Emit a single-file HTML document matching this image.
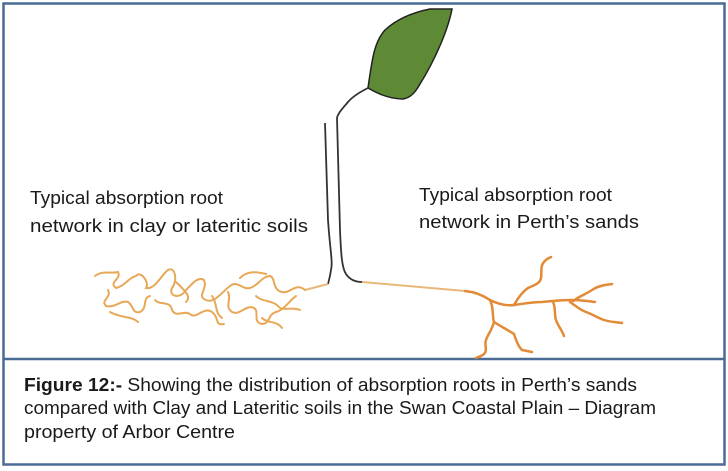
<!DOCTYPE html>
<html><head><meta charset="utf-8"><style>
html,body{margin:0;padding:0;background:#fff;width:728px;height:471px;overflow:hidden}
svg{display:block}
text{font-family:"Liberation Sans",sans-serif;fill:#1a1a1a}
</style></head><body>
<svg width="728" height="471" viewBox="0 0 728 471">
<rect x="3.5" y="3.5" width="721" height="461" fill="#fff" stroke="#4a6b94" stroke-width="2.5"/>
<line x1="3" y1="359" x2="725" y2="359" stroke="#4a6b94" stroke-width="2.5"/>
<!-- leaf -->
<path d="M368,88 C372,60 374,42 385,30 C398,18 415,12 430,9 L452,9 C448,30 435,60 420,84 C415,93 410,98 403,99 C390,99 378,94 368,88 Z" fill="#5e8a35" stroke="#222" stroke-width="1.5"/>
<!-- stem -->
<path d="M368,88 C360,92 353,96 348,102 C343,108 338,113 337,118 L340,230 C341,255 342,268 346,274 C350,280 356,282 362,282" fill="none" stroke="#333" stroke-width="1.8"/>
<path d="M325,123 L328,220 C330,250 333,262 331,270 C330,277 329,280 328,284" fill="none" stroke="#333" stroke-width="1.8"/>
<!-- tan connectors -->
<path d="M362,282 L465,291" stroke="#e8b878" stroke-width="2" fill="none"/>
<path d="M328,284 L305,290" stroke="#e8b878" stroke-width="2" fill="none"/>
<!-- clay roots tangle -->
<g fill="none" stroke="#e7a858" stroke-width="2" stroke-linecap="round">
<path d="M95,276 C102,270 112,274 118,272 C122,279 108,282 116,288 C125,286 128,278 136,276 C140,270 150,282 146,288 C155,290 162,274 168,270 C175,266 178,280 172,288 C168,296 180,300 186,290 C192,284 198,276 204,280 C208,290 196,296 206,300 C214,304 222,292 230,286 C238,280 242,290 250,288 C258,286 262,276 270,276 C276,278 272,290 282,292 C290,294 296,282 305,290"/>
<path d="M108,290 C112,298 100,300 106,306 C116,308 120,300 128,302 C134,306 132,314 140,312 C148,308 142,298 150,296"/>
<path d="M110,312 C120,318 132,316 138,322"/>
<path d="M155,300 C160,306 170,300 172,310 C176,318 184,310 190,314 C196,320 204,306 212,312 C220,318 214,326 224,324"/>
<path d="M176,282 C184,290 192,296 186,302"/>
<path d="M228,292 C232,300 224,306 232,312 C240,316 246,304 254,308 C260,312 252,322 262,324 C270,324 268,314 276,312 C284,310 290,300 296,296"/>
<path d="M240,278 C248,270 258,272 266,274"/>
<path d="M256,296 C262,302 272,300 278,306 C282,312 292,306 300,310"/>
<path d="M262,318 C268,324 276,320 282,328"/>
<path d="M212,296 C218,304 214,312 222,318"/>
</g>
<!-- sands roots -->
<g fill="none" stroke="#e28a35" stroke-width="2.5" stroke-linecap="round" stroke-linejoin="round">
<path d="M465,291 C476,292 484,296 490,300 C498,304 506,306 514,305 C522,304 532,302 542,302 C552,301 562,300 572,300 C580,300 588,301 595,302"/>
<path d="M573,301 C580,296 586,294 592,290 C598,286 604,285 612,284"/>
<path d="M570,302 C576,306 580,310 586,312 C592,314 598,318 604,320 C610,322 616,322 622,323"/>
<path d="M553,302 C556,308 554,314 556,320 C558,326 562,330 564,336"/>
<path d="M514,305 C518,298 522,292 528,288 C534,285 540,284 541,278 C542,272 540,266 544,262 C546,259 549,258 551,257"/>
<path d="M490,300 C494,308 492,316 494,322 C492,330 488,334 486,340 C484,346 488,350 484,354 C482,356 478,357 476,358"/>
<path d="M494,322 C500,326 508,330 514,334 C516,340 518,346 522,350 L532,352"/>
</g>
<!-- labels -->
<text x="30" y="204" font-size="18" textLength="193" lengthAdjust="spacingAndGlyphs">Typical absorption root</text>
<text x="30" y="232" font-size="18" textLength="278" lengthAdjust="spacingAndGlyphs">network in clay or lateritic soils</text>
<text x="419" y="201" font-size="18" textLength="193" lengthAdjust="spacingAndGlyphs">Typical absorption root</text>
<text x="419" y="228" font-size="18" textLength="220" lengthAdjust="spacingAndGlyphs">network in Perth’s sands</text>
<text x="24" y="391" font-size="18" textLength="613" lengthAdjust="spacingAndGlyphs"><tspan font-weight="bold">Figure 12:-</tspan> Showing the distribution of absorption roots in Perth’s sands</text>
<text x="24" y="414" font-size="18" textLength="632" lengthAdjust="spacingAndGlyphs">compared with Clay and Lateritic soils in the Swan Coastal Plain – Diagram</text>
<text x="24" y="438" font-size="18" textLength="211" lengthAdjust="spacingAndGlyphs">property of Arbor Centre</text>
</svg>
</body></html>
